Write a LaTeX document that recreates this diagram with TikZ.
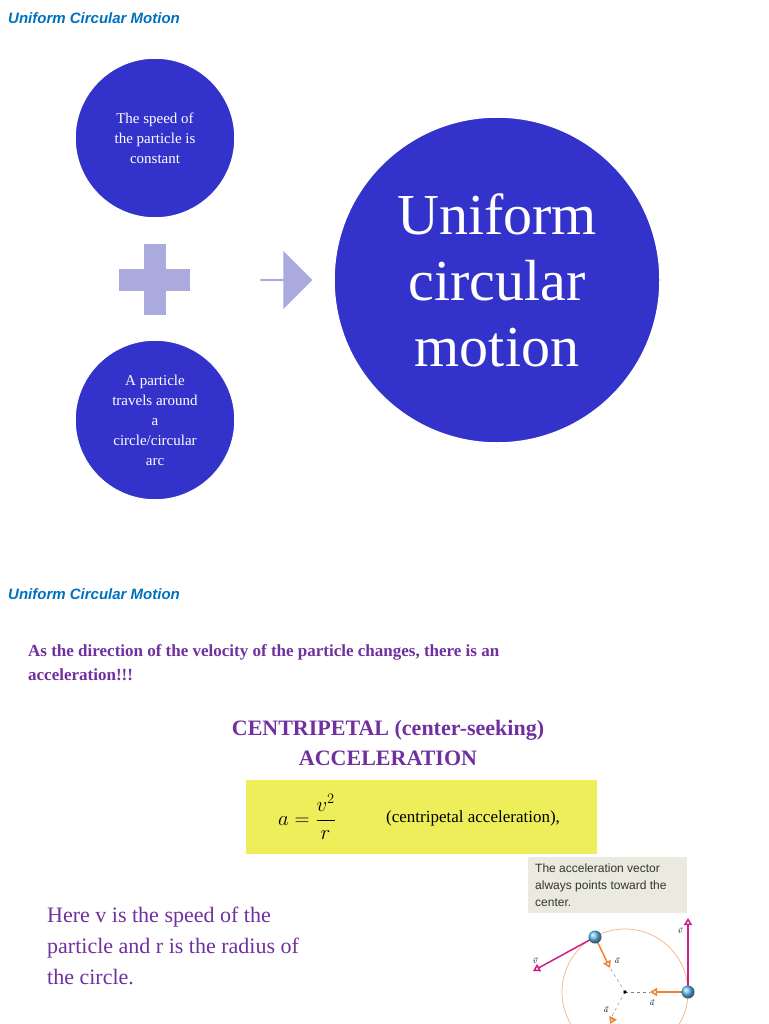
\documentclass[tikz,border=0pt]{standalone}
\usepackage{fontspec}
\setmainfont{Liberation Serif}
\newfontfamily\arialf{Liberation Sans}
\usetikzlibrary{arrows.meta,shapes.arrows}
\definecolor{ttlblue}{RGB}{0,112,192}
\definecolor{circ}{RGB}{51,51,204}
\definecolor{lpurp}{RGB}{170,170,222}
\definecolor{purp}{RGB}{112,48,160}
\definecolor{yel}{RGB}{238,238,90}
\definecolor{gbox}{RGB}{234,234,222}
\definecolor{org}{RGB}{240,130,50}
\definecolor{mag}{RGB}{210,30,130}
\definecolor{ball}{RGB}{100,190,240}
\begin{document}
\begin{tikzpicture}[x=1pt,y=-1pt,
  ttl/.style={anchor=west,text=ttlblue,font=\arialf\bfseries\itshape\fontsize{15}{18}\selectfont,inner sep=0},
  bub/.style={circle,fill=circ,draw=white,line width=1.5,text=white,align=center,inner sep=0},
  ptext/.style={text=purp,anchor=west,align=left,inner sep=0}]
\useasboundingbox[fill=white] (0,0) rectangle (768,1024);
\node[ttl] (t1) at (8,18) {Uniform Circular Motion};
\node[bub,minimum size=160,font=\fontsize{15}{20}\selectfont] (c1) at (155,138) {The speed of\\the particle is\\constant};
\node[bub,minimum size=160,font=\fontsize{15}{20}\selectfont] (c2) at (155,420) {A particle\\travels around\\a\\circle/circular\\arc};
\node[bub,minimum size=326,font=\fontsize{58}{66}\selectfont] (c3) at (497,280) {Uniform\\circular\\motion};
\fill[lpurp] (119,269) rectangle (190,291);
\fill[lpurp] (144,244) rectangle (166,315);
\node[single arrow,fill=lpurp,minimum height=52,minimum width=58,single arrow head extend=6,inner sep=0] (ar) at (286,280) {};
\node[ttl] (t2) at (8,594) {Uniform Circular Motion};
\node[ptext,font=\bfseries\fontsize{17}{24}\selectfont] (p1) at (28,663) {As the direction of the velocity of the particle changes, there is an\\acceleration!!!};
\node[text=purp,align=center,font=\bfseries\fontsize{22}{30}\selectfont,inner sep=0] (cp) at (388,743) {CENTRIPETAL (center-seeking)\\ACCELERATION};
\node[fill=yel,minimum width=351,minimum height=74,inner sep=0] (yb) at (421.5,817) {};
\node[font=\fontsize{20}{24}\selectfont,inner sep=0] (eq) at (307,817) {$\displaystyle a=\frac{v^2}{r}$};
\node[anchor=west,font=\fontsize{17}{20}\selectfont,inner sep=0] (eqt) at (386,818) {(centripetal acceleration),};
\node[ptext,font=\fontsize{22}{31}\selectfont] (hv) at (47,946) {Here v is the speed of the\\particle and r is the radius of\\the circle.};
\node[fill=gbox,minimum width=159,minimum height=56,inner sep=0] (gb) at (607.5,885) {};
\node[anchor=west,align=left,font=\arialf\fontsize{12}{17}\selectfont,text=black!80,inner sep=0] (gt) at (535,885) {The acceleration vector\\always points toward the\\center.};
\coordinate (ctr) at (625,992);
\draw[org!60,line width=0.7] (ctr) circle (63);
\coordinate (b1) at (595,937);
\coordinate (b2) at (688,992);
\draw[gray,dashed] (ctr) -- (610,968);
\draw[gray,dashed] (ctr) -- (650,992);
\draw[gray,dashed] (ctr) -- (612,1016);
\draw[org,line width=1.5,-{Triangle[open]}] (b1) -- (610,968);
\draw[org,line width=1.5,-{Triangle[open]}] (b2) -- (650,992);
\draw[org,line width=1.5,-{Triangle[open]}] (612,1020) -- (610,1024);
\draw[mag,line width=1.5,-{Triangle[open]}] (b1) -- (533,971);
\draw[mag,line width=1.5,-{Triangle[open]}] (b2) -- (688,918);
\fill (ctr) circle (1.8);
\shade[ball color=ball] (b1) circle (6.5);
\shade[ball color=ball] (b2) circle (6.5);
\node[font=\fontsize{8}{8}\selectfont] (v1) at (535,961) {$\vec v$};
\node[font=\fontsize{8}{8}\selectfont] (v2) at (680,931) {$\vec v$};
\node[font=\fontsize{8}{8}\selectfont] (a1) at (617,961) {$\vec a$};
\node[font=\fontsize{8}{8}\selectfont] (a2) at (652,1003) {$\vec a$};
\node[font=\fontsize{8}{8}\selectfont] (a3) at (606,1010) {$\vec a$};
\end{tikzpicture}
\end{document}
